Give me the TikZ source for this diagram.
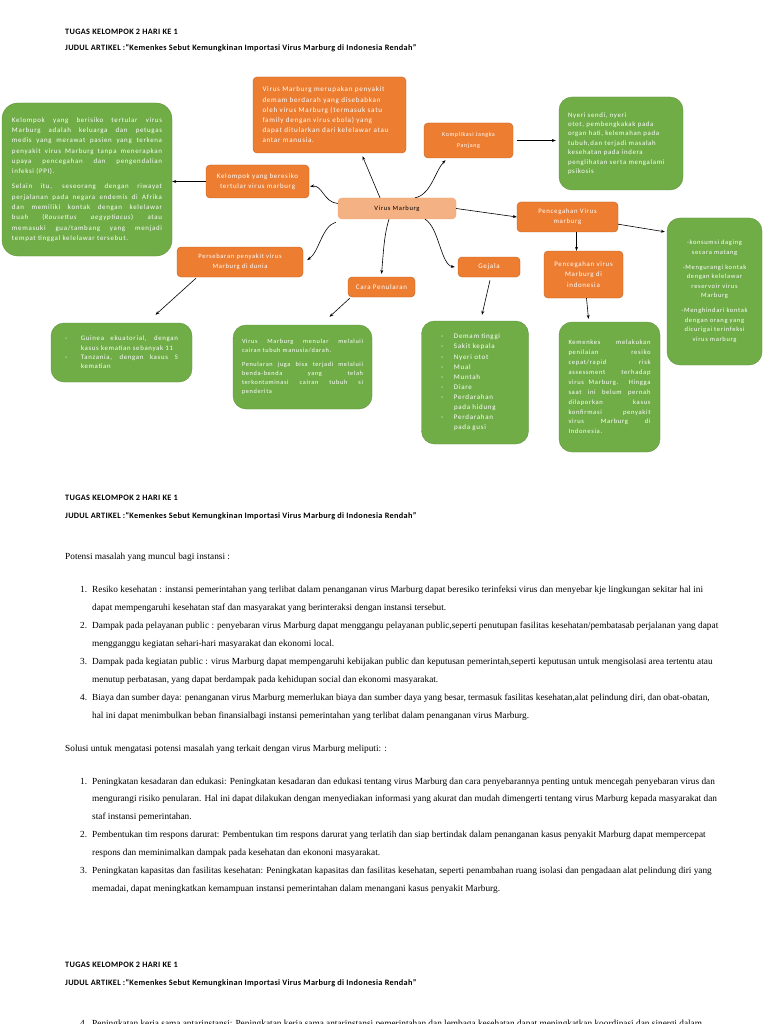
\documentclass[tikz,border=0pt]{standalone}
\usepackage{fontspec}
\setmainfont{Liberation Serif}
\newfontfamily\mapfont{Carlito}[LetterSpace=10]
\newfontfamily\headfont{Carlito}[LetterSpace=4]
\usetikzlibrary{calc, arrows.meta}

\definecolor{accOrange}{HTML}{ED7D31}
\definecolor{accGreen}{HTML}{70AD47}
\definecolor{accPeach}{HTML}{F4B183}
\newcommand{\mapsize}[2]{\mapfont\fontsize{#1}{#2}\selectfont}
\newcommand{\bodysize}{\fontsize{9.3}{12}\selectfont}
\newcommand{\headsize}{\fontsize{8.25}{10}\selectfont}
\newcommand{\dashitem}[1]{\hangindent=#1\hangafter=1\noindent\makebox[#1][l]{-}}

\begin{document}
\begin{tikzpicture}[x=1pt,y=-1pt,
    orbox/.style={draw=accOrange!80!black, line width=0.4pt, fill=accOrange, rounded corners=4pt,
      text=white, font=\mapsize{6.8}{10.2}, inner sep=0pt, align=center},
    grbox/.style={draw=accGreen!85!black, line width=0.4pt, fill=accGreen, rounded corners=13pt,
      text=white, font=\mapsize{6.8}{10}, inner sep=0pt},
    link/.style={-{Stealth[length=4pt,width=3pt]}, line width=0.6pt},
    body/.style={font=\bodysize, anchor=base west, inner sep=0pt},
    head/.style={font=\headfont\bfseries\headsize, anchor=base west, inner sep=0pt}]
  \fill[white] (0,0) rectangle (768,1024);
  \useasboundingbox (0,0) rectangle (768,1024);

  % page header
  \node[head] (h1) at (65,35) {TUGAS KELOMPOK 2 HARI KE 1};
  \node[head] (h2) at (65,51) {JUDUL ARTIKEL :“Kemenkes Sebut Kemungkinan Importasi Virus Marburg di Indonesia Rendah”};

  % mind map
  \node[orbox, fill=accPeach, draw=accOrange!70, text=black, font=\mapsize{6.5}{9}, minimum width=118pt, minimum height=21pt] (cen) at (397,208.5) {Virus Marburg};
  \node[orbox, font=\mapsize{7.1}{10.2}, minimum width=153pt, minimum height=76pt, text width=134pt, align=left] (def) at (329.5,115)
    {Virus Marburg merupakan penyakit\\demam berdarah yang disebabkan\\oleh virus Marburg (termasuk satu\\family dengan virus ebola) yang\\dapat ditularkan dari kelelawar atau\\antar manusia.};
  \node[orbox, font=\mapsize{6}{10.5}, minimum width=89pt, minimum height=35pt] (komp) at (468.5,140.5) {Komplikasi Jangka\\Panjang};
  \node[grbox, font=\mapsize{6.8}{9.4}, minimum width=124pt, minimum height=93pt, text width=106pt, align=left] (nyeri) at (621,143.5)
    {Nyeri sendi, nyeri\\otot, pembengkakak pada\\organ hati, kelemahan pada\\tubuh,dan terjadi masalah\\kesehatan pada indera\\penglihatan serta mengalami\\psikosis};
  \node[orbox, font=\mapsize{6.9}{10.5}, minimum width=103pt, minimum height=33pt] (kel) at (257.5,181.5) {Kelompok yang beresiko\\tertular virus marburg};
  \node[grbox, rounded corners=16pt, font=\mapsize{6.9}{10.3}, minimum width=170pt, minimum height=153pt, text width=150pt, align=justify] (grp) at (87,179.5)
    {Kelompok yang berisiko tertular virus\linebreak Marburg adalah keluarga dan petugas\linebreak medis yang merawat pasien yang terkena\linebreak penyakit virus Marburg tanpa menerapkan\linebreak upaya pencegahan dan pengendalian\linebreak infeksi (PPI).\\[5pt]
     Selain itu, seseorang dengan riwayat\linebreak perjalanan pada negara endemis di Afrika\linebreak dan memiliki kontak dengan kelelawar\linebreak buah (\textit{Rousettus aegyptiacus}) atau\linebreak memasuki gua/tambang yang menjadi\linebreak tempat tinggal kelelawar tersebut.};
  \node[orbox, minimum width=101pt, minimum height=30pt] (penc) at (567.5,217) {Pencegahan Virus\\marburg};
  \node[grbox, font=\mapsize{6.5}{9.6}, minimum width=95pt, minimum height=147pt, align=center] (pcg) at (714.5,291.5)
    {-konsumsi daging\\secara matang\\[5pt]-Mengurangi kontak\\dengan kelelawar\\reservoir virus\\Marburg\\[5pt]-Menghindari kontak\\dengan orang yang\\dicurigai terinfeksi\\virus marburg};
  \node[orbox, font=\mapsize{6.6}{10.5}, minimum width=126pt, minimum height=30pt] (pers) at (240,262) {Persebaran penyakit virus\\Marburg di dunia};
  \node[orbox, font=\mapsize{7}{9}, minimum width=67pt, minimum height=20pt] (cara) at (381.5,287) {Cara Penularan};
  \node[orbox, font=\mapsize{7}{9}, minimum width=62pt, minimum height=20pt] (gej) at (489,267) {Gejala};
  \node[orbox, font=\mapsize{6.9}{10.5}, minimum width=79pt, minimum height=47pt] (pind) at (583.5,274.5) {Pencegahan virus\\Marburg di\\indonesia};
  \node[grbox, font=\mapsize{6.8}{9.4}, minimum width=141pt, minimum height=59pt, text width=113pt, align=justify] (sebar) at (121.5,352.5)
    {\dashitem{16pt}Guinea ekuatorial, dengan\linebreak kasus kematian sebanyak 11\par
     \dashitem{16pt}Tanzania, dengan kasus 5\linebreak kematian\par};
  \node[grbox, font=\mapsize{6.3}{9}, minimum width=139pt, minimum height=84pt, text width=121pt, align=justify] (tular) at (302.5,367)
    {Virus Marburg menular melaluii\linebreak cairan tubuh manusia/darah.\\[5pt]
     Penularan juga bisa terjadi melaluii\linebreak benda-benda yang telah\linebreak terkontaminasi cairan tubuh si\linebreak penderita};
  \node[grbox, font=\mapsize{7}{10.1}, minimum width=107pt, minimum height=123pt, text width=68pt, align=left] (gjl) at (475,382.5)
    {\dashitem{13pt}Demam tinggi\par\dashitem{13pt}Sakit kepala\par\dashitem{13pt}Nyeri otot\par
     \dashitem{13pt}Mual\par\dashitem{13pt}Muntah\par\dashitem{13pt}Diare\par
     \dashitem{13pt}Perdarahan\linebreak pada hidung\par\dashitem{13pt}Perdarahan\linebreak pada gusi\par};
  \node[grbox, font=\mapsize{6.6}{9.9}, minimum width=101pt, minimum height=130pt, text width=82pt, align=justify] (kem) at (609.5,387)
    {Kemenkes melakukan\linebreak penilaian resiko\linebreak cepat/rapid risk\linebreak assessment terhadap\linebreak virus Marburg. Hingga\linebreak saat ini belum pernah\linebreak dilaporkan kasus\linebreak konfirmasi penyakit\linebreak virus Marburg di\linebreak Indonesia.};

  % connectors
  \draw[link] (kel.west) -- (kel.west -| grp.east);
  \draw[link] ($(cen.west)+(0,-5)$) .. controls +(-14,-1) and +(12,-2) .. ($(kel.east)+(1,5)$);
  \draw[link] ($(cen.north)+(-17,0)$) -- ($(def.south)+(33,3)$);
  \draw[link] ($(cen.north)+(18,0)$) .. controls +(16,-3) and +(-10,10) .. ($(komp.south)+(-23,2)$);
  \draw[link, shorten <=4pt, shorten >=3pt] (komp.east) -- (komp.east -| nyeri.west);
  \draw[link] (cen.east) -- (penc.west);
  \draw[link] ($(penc.south east)+(0,-8)$) -- ($(pcg.north west)+(-2,14)$);
  \draw[link] ($(penc.south)+(9,0)$) -- ($(pind.north)+(-7,0)$);
  \draw[link] ($(pind.south)+(3,0)$) -- ($(kem.north)+(-21,-3)$);
  \draw[link] ($(cen.south west)+(-2,3)$) .. controls +(-14,4) and +(12,-8) .. ($(pers.east)+(4,-2)$);
  \draw[link] ($(cen.south)+(-8,0)$) .. controls +(-5,16) and +(2,-22) .. ($(cara.north)+(0,-3)$);
  \draw[link] ($(cen.south)+(28,0)$) .. controls +(14,8) and +(-14,-2) .. ($(gej.west)+(-3,0)$);
  \draw[link] ($(gej.south)+(1,3)$) -- ($(gjl.north)+(7,-6)$);
  \draw[link] ($(cara.south west)+(2,1)$) -- ($(tular.north)+(27,-8)$);
  \draw[link] ($(pers.south)+(-44,1)$) -- ($(sebar.north)+(34,-8)$);

  % second page header and text
  \node[head] (h3) at (65,500) {TUGAS KELOMPOK 2 HARI KE 1};
  \node[head] (h4) at (65,518) {JUDUL ARTIKEL :“Kemenkes Sebut Kemungkinan Importasi Virus Marburg di Indonesia Rendah”};

  \node[body] (pot) at (65,559) {Potensi masalah yang muncul bagi instansi :};
  \node[body] (pn1) at (80,592) {1.};
  \node[body] (p1a) at (92,592) {Resiko kesehatan : instansi pemerintahan yang terlibat dalam penanganan virus Marburg dapat beresiko terinfeksi virus dan menyebar kje lingkungan sekitar hal ini};
  \node[body] (p1b) at (92,610) {dapat mempengaruhi kesehatan staf dan masyarakat yang berinteraksi dengan instansi tersebut.};
  \node[body] (pn2) at (80,628) {2.};
  \node[body] (p2a) at (92,628) {Dampak pada pelayanan public : penyebaran virus Marburg dapat menggangu pelayanan public,seperti penutupan fasilitas kesehatan/pembatasab perjalanan yang dapat};
  \node[body] (p2b) at (92,646) {mengganggu kegiatan sehari-hari masyarakat dan ekonomi local.};
  \node[body] (pn3) at (80,664) {3.};
  \node[body] (p3a) at (92,664) {Dampak pada kegiatan public : virus Marburg dapat mempengaruhi kebijakan public dan keputusan pemerintah,seperti keputusan untuk mengisolasi area tertentu atau};
  \node[body] (p3b) at (92,682) {menutup perbatasan, yang dapat berdampak pada kehidupan social dan ekonomi masyarakat.};
  \node[body] (pn4) at (80,700) {4.};
  \node[body] (p4a) at (92,700) {Biaya dan sumber daya: penanganan virus Marburg memerlukan biaya dan sumber daya yang besar, termasuk fasilitas kesehatan,alat pelindung diri, dan obat-obatan,};
  \node[body] (p4b) at (92,718) {hal ini dapat menimbulkan beban finansialbagi instansi pemerintahan yang terlibat dalam penanganan virus Marburg.};

  \node[body] (sol) at (65,751) {Solusi untuk mengatasi potensi masalah yang terkait dengan virus Marburg meliputi: :};
  \node[body] (sn1) at (80,784) {1.};
  \node[body] (s1a) at (92,784) {Peningkatan kesadaran dan edukasi: Peningkatan kesadaran dan edukasi tentang virus Marburg dan cara penyebarannya penting untuk mencegah penyebaran virus dan};
  \node[body] (s1b) at (92,801) {mengurangi risiko penularan. Hal ini dapat dilakukan dengan menyediakan informasi yang akurat dan mudah dimengerti tentang virus Marburg kepada masyarakat dan};
  \node[body] (s1c) at (92,819) {staf instansi pemerintahan.};
  \node[body] (sn2) at (80,837) {2.};
  \node[body] (s2a) at (92,837) {Pembentukan tim respons darurat: Pembentukan tim respons darurat yang terlatih dan siap bertindak dalam penanganan kasus penyakit Marburg dapat mempercepat};
  \node[body] (s2b) at (92,855) {respons dan meminimalkan dampak pada kesehatan dan ekononi masyarakat.};
  \node[body] (sn3) at (80,873) {3.};
  \node[body] (s3a) at (92,873) {Peningkatan kapasitas dan fasilitas kesehatan: Peningkatan kapasitas dan fasilitas kesehatan, seperti penambahan ruang isolasi dan pengadaan alat pelindung diri yang};
  \node[body] (s3b) at (92,891) {memadai, dapat meningkatkan kemampuan instansi pemerintahan dalam menangani kasus penyakit Marburg.};

  % third page header
  \node[head] (h5) at (65,967) {TUGAS KELOMPOK 2 HARI KE 1};
  \node[head] (h6) at (65,985) {JUDUL ARTIKEL :“Kemenkes Sebut Kemungkinan Importasi Virus Marburg di Indonesia Rendah”};
  \node[body] (sn4) at (80,1026) {4.};
  \node[body] (s4a) at (92,1026) {Peningkatan kerja sama antarinstansi: Peningkatan kerja sama antarinstansi pemerintahan dan lembaga kesehatan dapat meningkatkan koordinasi dan sinergi dalam};
\end{tikzpicture}
\end{document}
